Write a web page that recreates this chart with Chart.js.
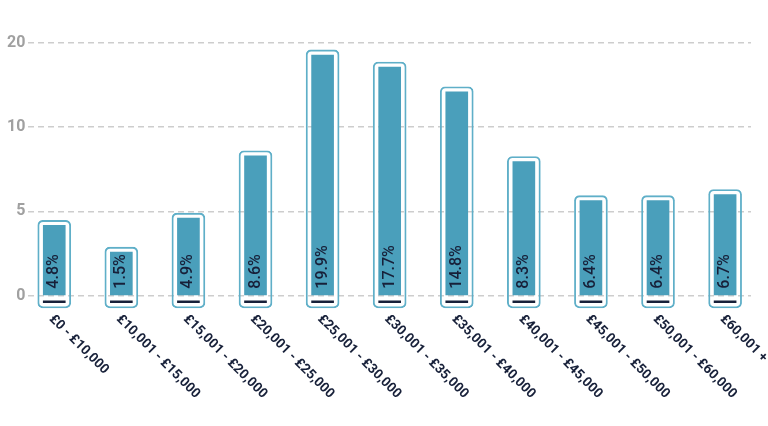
<!DOCTYPE html>
<html>
<head>
<meta charset="utf-8">
<script src="https://cdn.jsdelivr.net/npm/chart.js@4"></script>
<style>
  html, body { margin: 0; padding: 0; background: #ffffff; }
</style>
</head>
<body>
<canvas id="chart" width="768" height="426"></canvas>
<script>
// Salary bands and the share shown on each bar
const categories = ['£0 - £10,000', '£10,001 - £15,000', '£15,001 - £20,000', '£20,001 - £25,000',
    '£25,001 - £30,000', '£30,001 - £35,000', '£35,001 - £40,000', '£40,001 - £45,000',
    '£45,001 - £50,000', '£50,001 - £60,000', '£60,001 +'];
const barLabels = ['4.8%', '1.5%', '4.9%', '8.6%', '19.9%', '17.7%', '14.8%', '8.3%', '6.4%', '6.4%', '6.7%'];

// Bar heights as read against the axis gridlines
const barValues = [4.17, 2.58, 4.6, 8.3, 14.29, 13.57, 12.1, 7.96, 5.64, 5.64, 6.0];

// Axis gridlines and the labels printed next to them
const yTicks = [0, 5, 10, 15];
const yTickLabels = ['0', '5', '10', '20'];

const ctx = document.getElementById('chart').getContext('2d');

const navy = '#172039';
const teal = '#4a9fbb';

//Draw rotated value labels and slanted category labels
const labelPlugin = {
    id: 'labels',
    afterDatasetsDraw(chart) {
        const c = chart.ctx;
        const x = chart.scales.x;
        const y = chart.scales.y;
        const y0 = y.getPixelForValue(0);

        c.save();
        c.fillStyle = navy;
        c.font = '500 16px Roboto';
        c.textAlign = 'left';
        c.textBaseline = 'middle';
        barLabels.forEach((txt, i) => {
            const px = x.getPixelForValue(i);
            c.save();
            c.translate(px, y0 - 7);
            c.rotate(-Math.PI / 2);
            c.fillText(txt, 0, 0);
            c.restore();
        });

        c.font = 'bold 13.5px Roboto';
        categories.forEach((txt, i) => {
            const px = x.getPixelForValue(i);
            c.save();
            c.translate(px - 3, 317);
            c.rotate(Math.PI / 4);
            c.fillText(txt, 0, 0);
            c.restore();
        });
        c.restore();
    }
};

const idx = barValues.map((v, i) => i);

new Chart(ctx, {
    type: 'bar',
    data: {
        datasets: [
            {
                // outline box around each bar
                data: idx.map(i => ({ x: i, y: [-0.73, barValues[i] + 0.3] })),
                backgroundColor: 'rgba(0,0,0,0)',
                borderColor: '#5fafc8',
                borderWidth: 1.2,
                borderRadius: 5,
                borderSkipped: false,
                barThickness: 33,
                order: 1
            },
            {
                data: idx.map(i => ({ x: i, y: barValues[i] })),
                backgroundColor: teal,
                barThickness: 22,
                order: 2
            },
            {
                // dark dash under each bar
                data: idx.map(i => ({ x: i, y: [-0.42, -0.3] })),
                backgroundColor: navy,
                barThickness: 22,
                order: 3
            }
        ]
    },
    options: {
        responsive: false,
        animation: false,
        datasets: {
            bar: { grouped: false }
        },
        layout: {
            padding: { top: 43, right: 17, bottom: 113.5, left: 4 }
        },
        scales: {
            x: {
                type: 'linear',
                min: -0.386,
                max: 10.386,
                display: false,
                offset: false
            },
            y: {
                min: -1,
                max: 15,
                afterBuildTicks: (scale) => {
                    scale.ticks = yTicks.map(v => ({ value: v }));
                },
                grid: {
                    color: '#cdcdcd',
                    lineWidth: 1.5,
                    drawTicks: false
                },
                border: { display: false, dash: [6, 4] },
                ticks: {
                    padding: 3,
                    color: '#a0a0a0',
                    font: { family: 'Roboto', size: 16, weight: 'bold' },
                    callback: (value) => yTickLabels[yTicks.indexOf(value)]
                }
            }
        },
        plugins: {
            legend: { display: false },
            tooltip: { enabled: false }
        }
    },
    plugins: [labelPlugin]
});
</script>
</body>
</html>
